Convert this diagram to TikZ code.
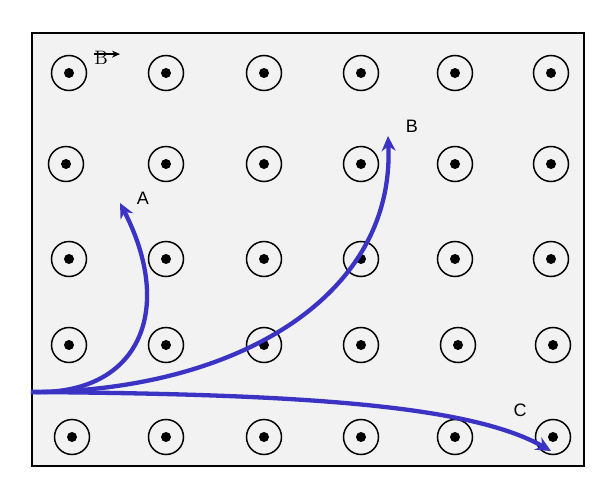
\documentclass[tikz,border=0pt]{standalone}
\usepackage{fontspec}
\setsansfont{Liberation Sans}
\usetikzlibrary{arrows.meta}
\definecolor{traj}{HTML}{3B33C4}
\definecolor{bg}{HTML}{F2F2F2}
\begin{document}
\begin{tikzpicture}[x=1pt,y=-1pt,
  fieldring/.style={circle,draw,line width=1.5pt,minimum size=35pt,inner sep=0pt},
  trajline/.style={draw=traj,line width=4.3pt,-{Stealth[length=15pt,width=14pt]}},
  lbl/.style={font=\sffamily\Large,scale=1.25}]
\useasboundingbox (0,0) rectangle (606,490);
\node[draw,line width=1.5pt,fill=bg,minimum width=552pt,minimum height=433pt,inner sep=0pt,anchor=north west] (box) at (31,32) {};
\foreach \r/\y/\xa/\xb/\xc/\xd/\xe/\xf in {1/73/69/166/264/361/455/551,2/164/66/166/264/361/455/551,3/259/69/166/264/361/455/551,4/345/69/166/264/361/458/553,5/437/72/166/264/361/455/553}{
  \foreach \c/\x in {1/\xa,2/\xb,3/\xc,4/\xd,5/\xe,6/\xf}{
    \node[fieldring] (f\r\c) at (\x,\y) {};
    \fill (f\r\c.center) circle (5pt);
  }
}
\coordinate (s) at (31,392);
\coordinate (ea) at (120,203);
\coordinate (eb) at (388,136);
\coordinate (ec) at (551,451);
\draw[trajline] (s) .. controls (140,396) and (175,310) .. (ea);
\draw[trajline] (s) .. controls (230,392) and (395,300) .. (eb);
\draw[trajline] (s) .. controls (300,394) and (470,405) .. (ec);
\node[lbl] (la) at (143,198) {A};
\node[lbl] (lb) at (412,126) {B};
\node[lbl] (lc) at (520,410) {C};
\node[font=\Large,scale=1.35,inner sep=0pt] (bv) at (101,58) {B};
\draw[line width=1.2pt,-{Stealth[length=8pt,width=7pt]}] ([yshift=-3pt]bv.north west) -- ([xshift=12pt,yshift=-3pt]bv.north east);
\end{tikzpicture}
\end{document}
